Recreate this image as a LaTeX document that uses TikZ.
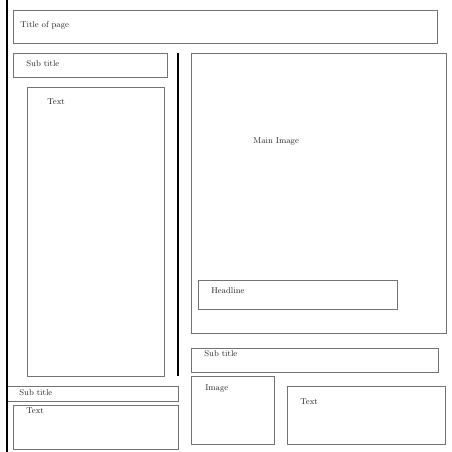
\documentclass[tikz,border=0pt]{standalone}
\usetikzlibrary{positioning}
\begin{document}
\begin{tikzpicture}[x=1pt, y=-1pt, semithick]
      \tikzstyle{box}=[draw=black!55, line width=0.7pt, rectangle, anchor=north west, inner sep=0pt]
      \tikzstyle{txt}=[font=\fontsize{8.5}{10}\selectfont, inner sep=0pt, text=black!85]
      \tikzstyle{rule}=[line width=1.6pt, black]
      \useasboundingbox (0,0) rectangle (452,452);
      \node[box, minimum width=424pt, minimum height=33pt] (title) at (13,10) {};
      \node[box, minimum width=154pt, minimum height=24pt] (subL) at (13,53) {};
      \node[box, minimum width=137pt, minimum height=289pt] (textL) at (27,87) {};
      \node[box, minimum width=255pt, minimum height=280pt] (main) at (191,53) {};
      \node[box, minimum width=199pt, minimum height=29pt] (head) at (198,280) {};
      \node[box, minimum width=247pt, minimum height=24pt] (subR) at (191,348) {};
      \node[box, minimum width=83pt, minimum height=68pt] (image) at (191,376) {};
      \node[box, minimum width=158pt, minimum height=58pt] (textR) at (287,386) {};
      \node[box, minimum width=171pt, minimum height=15pt] (subB) at (7,386) {};
      \node[box, minimum width=165pt, minimum height=44pt] (textB) at (13,405) {};
      \node[txt, below right=15pt and 7pt of title.north west, anchor=west] (titlelbl) {Title of page};
      \node[txt, below right=11pt and 13pt of subL.north west, anchor=west] (subLlbl) {Sub title};
      \node[txt, below right=15pt and 20pt of textL.north west, anchor=west] (textLlbl) {Text};
      \node[txt, below right=88pt and 62pt of main.north west, anchor=west] (mainlbl) {Main Image};
      \node[txt, below right=11pt and 13pt of head.north west, anchor=west] (headlbl) {Headline};
      \node[txt, below right=6pt and 13pt of subR.north west, anchor=west] (subRlbl) {Sub title};
      \node[txt, below right=12pt and 14pt of image.north west, anchor=west] (imagelbl) {Image};
      \node[txt, below right=16pt and 13pt of textR.north west, anchor=west] (textRlbl) {Text};
      \node[txt, below right=7pt and 12pt of subB.north west, anchor=west] (subBlbl) {Sub title};
      \node[txt, below right=6pt and 13pt of textB.north west, anchor=west] (textBlbl) {Text};
      \coordinate (edgetop) at (7,0);
      \coordinate (edgebot) at (7,452);
      \coordinate (divtop) at (178,53);
      \coordinate (divbot) at (178,376);
      \draw[rule] (edgetop) -- (edgebot);
      \draw[rule] (divtop) -- (divbot);
    \end{tikzpicture}
\end{document}
